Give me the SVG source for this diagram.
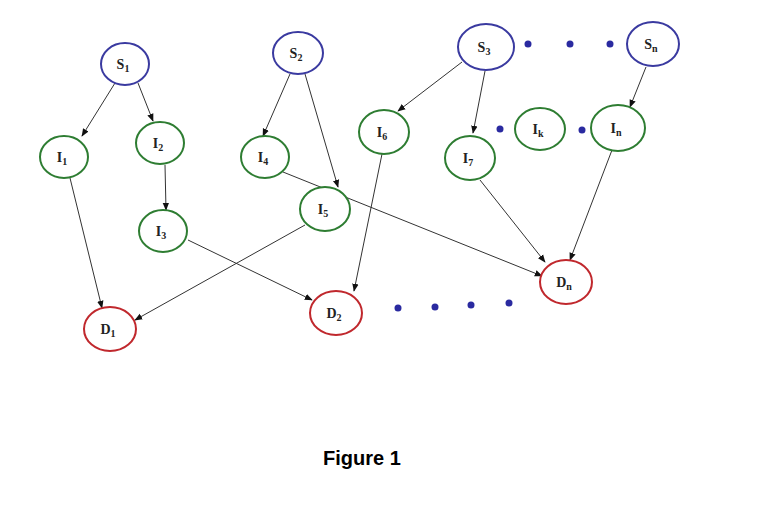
<svg xmlns="http://www.w3.org/2000/svg" width="762" height="508" viewBox="0 0 762 508">
<style>
ellipse{fill:#fff;stroke-width:2}
.s{stroke:#3a3aa0}.i{stroke:#2e7d32}.d{stroke:#c0282d}
text{font-family:"Liberation Serif",serif;font-weight:bold;font-size:14px;fill:#222;text-anchor:middle}
.sub{font-size:10px}
#edges line{stroke:#333;stroke-width:1;marker-end:url(#a)}
.dot{fill:#2a2aa0}
</style>
<defs><marker id="a" viewBox="0 0 10 10" refX="9" refY="5" markerWidth="8" markerHeight="8" orient="auto"><path d="M0,1 L10,5 L0,9 z" fill="#111"/></marker></defs>
<rect width="762" height="508" fill="#fff"/>
<g id="edges">
<line x1="115" y1="83" x2="82" y2="136"/>
<line x1="138" y1="83" x2="153" y2="121"/>
<line x1="165" y1="165" x2="166" y2="210"/>
<line x1="70" y1="178" x2="102" y2="308"/>
<line x1="290" y1="74" x2="263" y2="136"/>
<line x1="305" y1="74" x2="338" y2="187"/>
<line x1="283" y1="172" x2="542" y2="276"/>
<line x1="305" y1="225" x2="135" y2="320"/>
<line x1="188" y1="240" x2="312" y2="300"/>
<line x1="462" y1="62" x2="398" y2="111"/>
<line x1="485" y1="71" x2="473" y2="133"/>
<line x1="382" y1="154" x2="354" y2="291"/>
<line x1="480" y1="180" x2="545" y2="262"/>
<line x1="646" y1="67" x2="630" y2="107"/>
<line x1="612" y1="150" x2="570" y2="260"/>
</g>
<g id="S1"><ellipse class="s" cx="125" cy="64" rx="24" ry="21"/><text x="123" y="69">S<tspan class="sub" dy="3">1</tspan></text></g>
<g id="S2"><ellipse class="s" cx="298" cy="53" rx="25" ry="21"/><text x="296" y="58">S<tspan class="sub" dy="3">2</tspan></text></g>
<g id="S3"><ellipse class="s" cx="486" cy="47" rx="28" ry="23"/><text x="484" y="52">S<tspan class="sub" dy="3">3</tspan></text></g>
<g id="Sn"><ellipse class="s" cx="653" cy="44" rx="26" ry="22"/><text x="651" y="49">S<tspan class="sub" dy="3">n</tspan></text></g>
<g id="I1"><ellipse class="i" cx="64" cy="157" rx="24" ry="21"/><text x="62" y="162">I<tspan class="sub" dy="3">1</tspan></text></g>
<g id="I2"><ellipse class="i" cx="160" cy="143" rx="24" ry="21"/><text x="158" y="148">I<tspan class="sub" dy="3">2</tspan></text></g>
<g id="I3"><ellipse class="i" cx="163" cy="231" rx="24" ry="21"/><text x="161" y="236">I<tspan class="sub" dy="3">3</tspan></text></g>
<g id="I4"><ellipse class="i" cx="265" cy="157" rx="24" ry="21"/><text x="263" y="162">I<tspan class="sub" dy="3">4</tspan></text></g>
<g id="I5"><ellipse class="i" cx="325" cy="209" rx="25" ry="22"/><text x="323" y="214">I<tspan class="sub" dy="3">5</tspan></text></g>
<g id="I6"><ellipse class="i" cx="384" cy="132" rx="25" ry="22"/><text x="382" y="137">I<tspan class="sub" dy="3">6</tspan></text></g>
<g id="I7"><ellipse class="i" cx="470" cy="158" rx="25" ry="22"/><text x="468" y="163">I<tspan class="sub" dy="3">7</tspan></text></g>
<g id="Ik"><ellipse class="i" cx="540" cy="129" rx="25" ry="21"/><text x="538" y="134">I<tspan class="sub" dy="3">k</tspan></text></g>
<g id="In"><ellipse class="i" cx="618" cy="128" rx="27" ry="23"/><text x="616" y="133">I<tspan class="sub" dy="3">n</tspan></text></g>
<g id="D1"><ellipse class="d" cx="110" cy="329" rx="26" ry="22"/><text x="108" y="334">D<tspan class="sub" dy="3">1</tspan></text></g>
<g id="D2"><ellipse class="d" cx="336" cy="313" rx="26" ry="22"/><text x="334" y="318">D<tspan class="sub" dy="3">2</tspan></text></g>
<g id="Dn"><ellipse class="d" cx="566" cy="282" rx="26" ry="22"/><text x="564" y="287">D<tspan class="sub" dy="3">n</tspan></text></g>
<g id="dots">
<circle class="dot" cx="528" cy="44" r="3.5"/><circle class="dot" cx="570" cy="44" r="3.5"/><circle class="dot" cx="610" cy="44" r="3.5"/>
<circle class="dot" cx="500" cy="129" r="3.5"/><circle class="dot" cx="582" cy="130" r="3.5"/>
<circle class="dot" cx="398" cy="308" r="3.5"/><circle class="dot" cx="435" cy="307" r="3.5"/><circle class="dot" cx="471" cy="305" r="3.5"/><circle class="dot" cx="509" cy="303" r="3.5"/>
</g>
<text x="362" y="465" style="font-family:'Liberation Sans',sans-serif;font-size:20px;font-weight:bold;fill:#000">Figure 1</text>
</svg>
